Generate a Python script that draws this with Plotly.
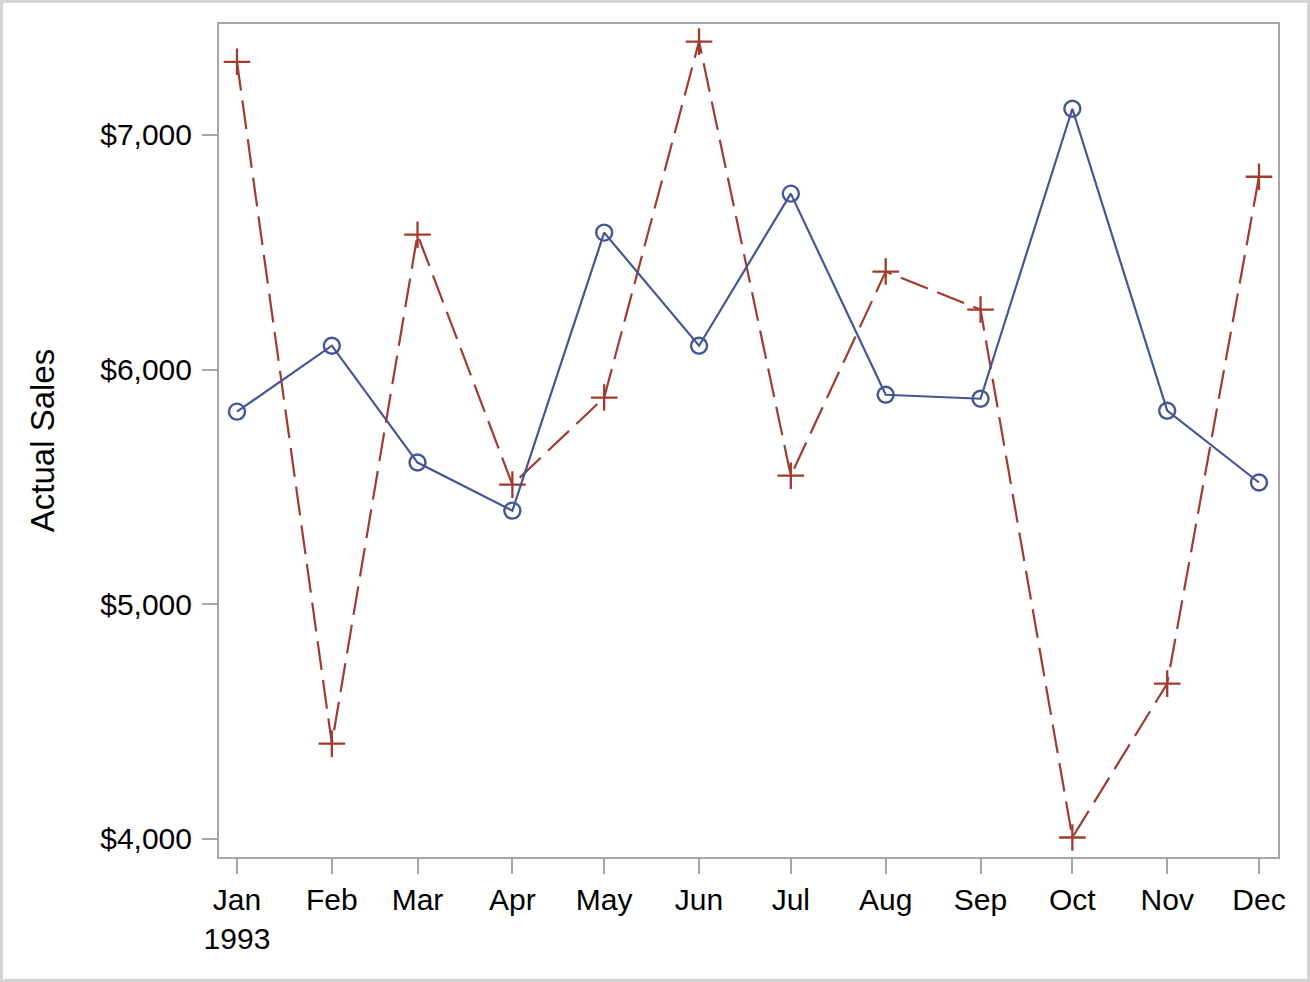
import plotly.graph_objects as go

months = ['1993-01-01', '1993-02-01', '1993-03-01', '1993-04-01', '1993-05-01', '1993-06-01',
          '1993-07-01', '1993-08-01', '1993-09-01', '1993-10-01', '1993-11-01', '1993-12-01']
monthLabels = ['Jan<br>1993', 'Feb', 'Mar', 'Apr', 'May', 'Jun',
               'Jul', 'Aug', 'Sep', 'Oct', 'Nov', 'Dec']
actualSales = [5821, 6102, 5604, 5399, 6584, 6102, 6750, 5893, 5876, 7112, 5825, 5519]
otherSales = [7312, 4406, 6575, 5510, 5881, 7398, 5548, 6418, 6256, 4006, 4662, 6822]
yTicks = [4000, 5000, 6000, 7000]

blue = '#445694'
red = '#A23A2E'
gray = '#a6a6a6'
font = 'Liberation Sans, Arial, sans-serif'

fig = go.Figure()
fig.add_trace(go.Scatter(x=months, y=otherSales, mode='lines+markers',
                         line=dict(color=red, width=2.2, dash='29px,10px'),
                         marker=dict(symbol='cross-thin', size=19, line=dict(color=red, width=2.3)),
                         showlegend=False))
fig.add_trace(go.Scatter(x=months, y=actualSales, mode='lines+markers',
                         line=dict(color=blue, width=2.2),
                         marker=dict(symbol='circle-open', size=16, color=blue, line=dict(width=2.4)),
                         showlegend=False))

fig.update_layout(
    width=1310, height=982,
    margin=dict(l=219, r=32, t=24, b=125),
    paper_bgcolor='white', plot_bgcolor='white',
    font=dict(family=font, size=30, color='black'),
)
fig.update_xaxes(range=['1992-12-26 03:00', '1993-12-07 05:00'], tickvals=months, ticktext=monthLabels,
                 showline=True, mirror=True, linecolor=gray, linewidth=2,
                 ticks='outside', ticklen=15, tickwidth=2, tickcolor=gray,
                 showgrid=False, zeroline=False)
fig.update_yaxes(range=[3923, 7473], tickvals=yTicks, tickformat='$,.0f',
                 showline=True, mirror=True, linecolor=gray, linewidth=2,
                 ticks='outside', ticklen=15, tickwidth=2, tickcolor=gray,
                 ticklabelstandoff=4,
                 showgrid=False, zeroline=False,
                 title=dict(text='Actual Sales', font=dict(size=33), standoff=36))

# light frame around the whole picture
fig.add_shape(type='rect', xref='paper', yref='paper',
              x0=-217.5 / 1059, x1=1089.5 / 1059, y0=-123.5 / 833, y1=855.5 / 833,
              line=dict(color='#d4d4d4', width=3), layer='below')

fig.write_html('out.html', config={'displayModeBar': False},
               post_script="document.body.style.margin='0';")
